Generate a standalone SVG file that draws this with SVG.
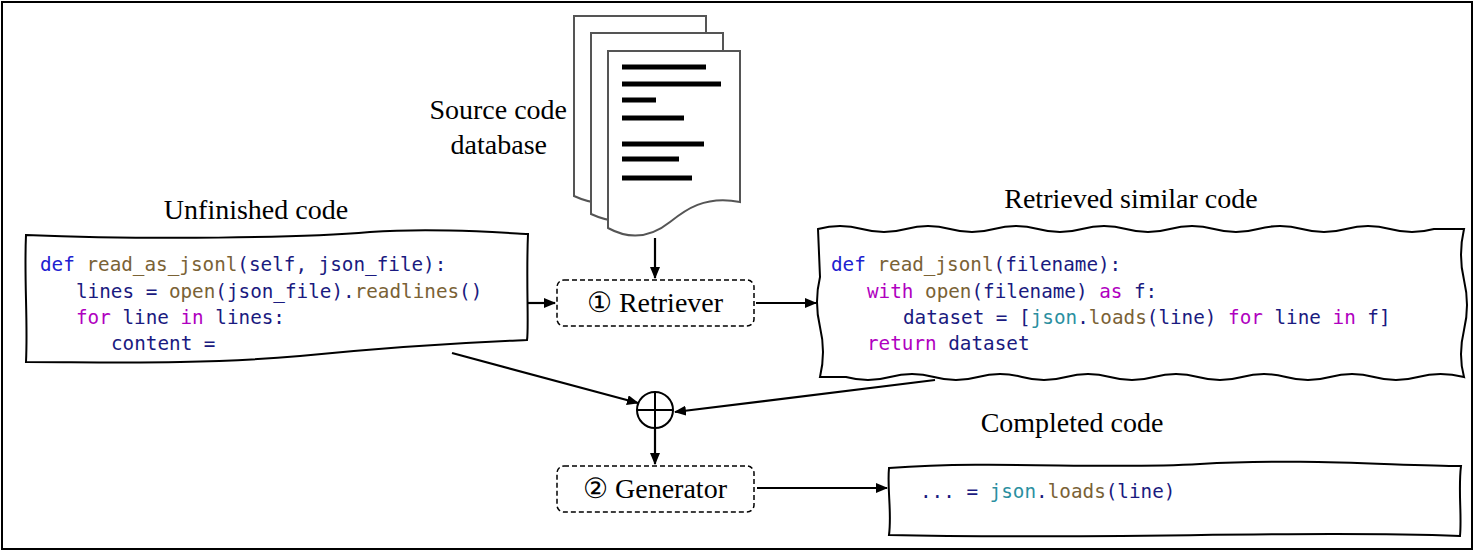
<svg xmlns="http://www.w3.org/2000/svg" width="1474" height="551" viewBox="0 0 1474 551">
<defs>
<style>
.lbl{font-family:"Liberation Serif",serif;font-size:28px;fill:#000}
.code{font-family:"DejaVu Sans Mono",monospace;font-size:19.3px;fill:#1a1a80}
.kw{fill:#2020d0}.fn{fill:#7a6235}.pk{fill:#b000c0}.md{fill:#2a8f9f}
.box{fill:#fff;stroke:#000;stroke-width:2}
.dash{fill:#fff;stroke:#000;stroke-width:1.5;stroke-dasharray:5 3}
.doc{fill:#fff;stroke:#555;stroke-width:2}
.bar{stroke:#000;stroke-width:5}
.con{stroke:#000;stroke-width:2.2;fill:none;marker-end:url(#ah)}
</style>
<marker id="ah" markerWidth="12" markerHeight="10" refX="11" refY="5" orient="auto" markerUnits="userSpaceOnUse"><path d="M0,0 L12,5 L0,10 z" fill="#000"/></marker>
</defs>
<rect x="2" y="2" width="1470" height="547" fill="#fff" stroke="#000" stroke-width="2"/>
<g id="database">
<path class="doc" d="M574,16 H706 V180 C680,170 650,175 640,185 C620,205 600,208 574,196 Z"/>
<path class="doc" d="M591,33 H723 V198 C697,188 667,193 657,203 C637,223 617,226 591,214 Z"/>
<path class="doc" d="M608,51 H740 V202 C705,195 685,210 670,222 C650,238 630,240 608,228 Z"/>
<g class="bar"><line x1="622" y1="67" x2="706" y2="67"/><line x1="622" y1="84" x2="721" y2="84"/><line x1="622" y1="100" x2="656" y2="100"/><line x1="622" y1="118" x2="684" y2="118"/><line x1="622" y1="144" x2="704" y2="144"/><line x1="622" y1="159" x2="679" y2="159"/><line x1="622" y1="178" x2="692" y2="178"/></g>
<text class="lbl" x="567" y="119" text-anchor="end">Source code</text>
<text class="lbl" x="547" y="154" text-anchor="end">database</text>
</g>
<g id="unfinished">
<text class="lbl" x="256" y="219" text-anchor="middle">Unfinished code</text>
<path class="box" d="M26,235 C150,240 300,238 370,232 C430,228 490,232 528,234 C526,280 529,330 527,340 C480,342 420,344 300,356 C200,365 100,362 26,362 C28,320 24,280 26,235 Z"/>
<text class="code" x="40" y="271"><tspan class="kw">def</tspan> <tspan class="fn">read_as_jsonl</tspan>(self, json_file):</text>
<text class="code" x="76" y="298">lines = <tspan class="fn">open</tspan>(json_file).<tspan class="fn">readlines</tspan>()</text>
<text class="code" x="76" y="324"><tspan class="pk">for</tspan> line <tspan class="pk">in</tspan> lines:</text>
<text class="code" x="111" y="350">content =</text>
</g>
<g id="retrieved">
<text class="lbl" x="1131" y="208" text-anchor="middle">Retrieved similar code</text>
<path class="box" d="M818,229 Q840,223 862,229 T906,229 T950,229 T994,229 T1038,229 T1082,229 T1126,229 T1170,229 T1214,229 T1258,229 T1302,229 T1346,229 T1390,229 T1434,229 L1464,229 Q1458,255 1464,280 T1464,330 T1464,377 Q1440,371 1418,377 T1374,377 T1330,377 T1286,377 T1242,377 T1198,377 T1154,377 T1110,377 T1066,377 T1022,377 T978,377 T934,377 T890,377 T846,377 L820,377 Q826,352 820,327 T820,277 Z"/>
<text class="code" x="831" y="271"><tspan class="kw">def</tspan> <tspan class="fn">read_jsonl</tspan>(filename):</text>
<text class="code" x="867" y="298"><tspan class="pk">with</tspan> <tspan class="fn">open</tspan>(filename) <tspan class="pk">as</tspan> f:</text>
<text class="code" x="903" y="324">dataset = [<tspan class="md">json</tspan>.<tspan class="fn">loads</tspan>(line) <tspan class="pk">for</tspan> line <tspan class="pk">in</tspan> f]</text>
<text class="code" x="867" y="350"><tspan class="pk">return</tspan> dataset</text>
</g>
<g id="retriever">
<rect class="dash" x="557" y="280" width="197" height="46" rx="7"/>
<text class="lbl" x="655" y="312" text-anchor="middle">① Retriever</text>
</g>
<g id="plus">
<circle cx="655" cy="410" r="18" fill="#fff" stroke="#000" stroke-width="2"/>
<line x1="637" y1="410" x2="673" y2="410" stroke="#000" stroke-width="2"/>
<line x1="655" y1="392" x2="655" y2="428" stroke="#000" stroke-width="2"/>
</g>
<g id="generator">
<rect class="dash" x="557" y="466" width="197" height="46" rx="7"/>
<text class="lbl" x="655" y="498" text-anchor="middle">② Generator</text>
</g>
<g id="completed">
<text class="lbl" x="1072" y="432" text-anchor="middle">Completed code</text>
<path class="box" d="M889,468 C1000,460 1100,470 1200,464 C1300,458 1400,466 1461,466 C1458,490 1462,515 1460,536 C1300,530 1100,540 889,535 C892,512 887,490 889,468 Z"/>
<text class="code" x="920" y="498">... = <tspan class="md">json</tspan>.<tspan class="fn">loads</tspan>(line)</text>
</g>
<g id="connectors">
<line class="con" x1="528" y1="303" x2="555" y2="303"/>
<line class="con" x1="655" y1="238" x2="655" y2="278"/>
<line class="con" x1="756" y1="303" x2="816" y2="303"/>
<line class="con" x1="452" y1="353" x2="638" y2="403"/>
<line class="con" x1="935" y1="380" x2="675" y2="412"/>
<line class="con" x1="655" y1="428" x2="655" y2="464"/>
<line class="con" x1="757" y1="488" x2="887" y2="488"/>
</g>
</svg>
